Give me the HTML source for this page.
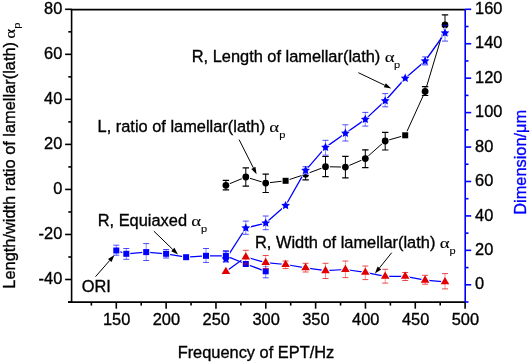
<!DOCTYPE html><html><head><meta charset="utf-8"><style>html,body{margin:0;padding:0;background:#fff;overflow:hidden}svg{display:block;will-change:transform}</style></head><body><svg width="531" height="363" viewBox="0 0 531 363"><style>text{stroke:currentColor;stroke-width:0.35px}</style><rect width="531" height="363" fill="#fff"/><g stroke="#000" stroke-width="1.6" fill="none"><path d="M70.8,9.6H465.2"/><path d="M71.6,9.3V302.1"/><path d="M68,302.1H465.2"/><path d="M65.10,9.30H71.6"/><path d="M68.30,31.82H71.6"/><path d="M65.10,54.33H71.6"/><path d="M68.30,76.85H71.6"/><path d="M65.10,99.37H71.6"/><path d="M68.30,121.89H71.6"/><path d="M65.10,144.40H71.6"/><path d="M68.30,166.92H71.6"/><path d="M65.10,189.44H71.6"/><path d="M68.30,211.95H71.6"/><path d="M65.10,234.47H71.6"/><path d="M68.30,256.99H71.6"/><path d="M65.10,279.50H71.6"/><path d="M68.30,302.02H71.6"/><path d="M91.38,302.1V305.60"/><path d="M116.30,302.1V308.70"/><path d="M141.22,302.1V305.60"/><path d="M166.13,302.1V308.70"/><path d="M191.05,302.1V305.60"/><path d="M215.96,302.1V308.70"/><path d="M240.88,302.1V305.60"/><path d="M265.79,302.1V308.70"/><path d="M290.70,302.1V305.60"/><path d="M315.62,302.1V308.70"/><path d="M340.54,302.1V305.60"/><path d="M365.45,302.1V308.70"/><path d="M390.37,302.1V305.60"/><path d="M415.28,302.1V308.70"/><path d="M440.20,302.1V305.60"/><path d="M465.11,302.1V308.70"/></g><g stroke="#0000ff" stroke-width="1.6" fill="none"><path d="M465.2,9.3V302.1"/><path d="M465.2,9.30H471.20"/><path d="M465.2,26.52H468.50"/><path d="M465.2,43.74H471.20"/><path d="M465.2,60.95H468.50"/><path d="M465.2,78.17H471.20"/><path d="M465.2,95.39H468.50"/><path d="M465.2,112.61H471.20"/><path d="M465.2,129.83H468.50"/><path d="M465.2,147.04H471.20"/><path d="M465.2,164.26H468.50"/><path d="M465.2,181.48H471.20"/><path d="M465.2,198.70H468.50"/><path d="M465.2,215.92H471.20"/><path d="M465.2,233.13H468.50"/><path d="M465.2,250.35H471.20"/><path d="M465.2,267.57H468.50"/><path d="M465.2,284.79H471.20"/><path d="M465.2,302.01H468.50"/></g><polyline points="225.90,185.30 245.80,177.00 265.70,183.10 285.60,180.80 305.60,174.20 325.50,166.70 345.40,167.10 365.30,158.60 385.20,141.00 405.20,135.30 425.10,91.50 445.00,25.00" fill="none" stroke="#000000" stroke-width="1.0" stroke-linejoin="round"/><polyline points="116.30,250.50 126.30,253.80 146.20,252.10 166.10,253.80 186.10,257.20 206.00,255.80 225.90,255.80 245.80,264.00 265.70,271.30" fill="none" stroke="#0000ff" stroke-width="1.25" stroke-linejoin="round"/><polyline points="225.90,271.50 245.80,257.00 265.70,262.60 285.60,264.50 305.60,267.90 325.50,270.70 345.40,269.50 365.30,272.30 385.20,276.30 405.20,276.30 425.10,280.20 445.00,281.90" fill="none" stroke="#0000ff" stroke-width="1.25" stroke-linejoin="round"/><polyline points="225.90,259.00 245.80,228.00 265.70,223.10 285.60,205.50 305.60,170.40 325.50,147.40 345.40,133.20 365.30,119.40 385.20,100.80 405.20,78.20 425.10,61.00 445.00,33.00" fill="none" stroke="#0000ff" stroke-width="1.3" stroke-linejoin="round"/><g fill="#fff" stroke="#fff" stroke-width="2.0" stroke-linejoin="round"><circle cx="225.90" cy="185.30" r="3.4"/><circle cx="245.80" cy="177.00" r="3.4"/><circle cx="265.70" cy="183.10" r="3.4"/><rect x="282.60" y="177.80" width="6" height="6"/><circle cx="305.60" cy="174.20" r="3.4"/><circle cx="325.50" cy="166.70" r="3.4"/><circle cx="345.40" cy="167.10" r="3.4"/><circle cx="365.30" cy="158.60" r="3.4"/><circle cx="385.20" cy="141.00" r="3.4"/><rect x="402.20" y="132.30" width="6" height="6"/><circle cx="425.10" cy="91.50" r="3.4"/><circle cx="445.00" cy="25.00" r="3.4"/></g><path d="M225.90,180.40V189.80" stroke="#000000" stroke-width="1.02" fill="none" opacity="1"/><path d="M222.70,180.40h6.4M222.70,189.80h6.4" stroke="#000000" stroke-width="1.2" fill="none" opacity="1"/><path d="M245.80,167.90V186.20" stroke="#000000" stroke-width="1.02" fill="none" opacity="1"/><path d="M242.60,167.90h6.4M242.60,186.20h6.4" stroke="#000000" stroke-width="1.2" fill="none" opacity="1"/><path d="M265.70,174.10V192.50" stroke="#000000" stroke-width="1.02" fill="none" opacity="1"/><path d="M262.50,174.10h6.4M262.50,192.50h6.4" stroke="#000000" stroke-width="1.2" fill="none" opacity="1"/><path d="M305.60,168.50V179.80" stroke="#000000" stroke-width="1.02" fill="none" opacity="1"/><path d="M302.40,168.50h6.4M302.40,179.80h6.4" stroke="#000000" stroke-width="1.2" fill="none" opacity="1"/><path d="M325.50,156.50V176.70" stroke="#000000" stroke-width="1.02" fill="none" opacity="1"/><path d="M322.30,156.50h6.4M322.30,176.70h6.4" stroke="#000000" stroke-width="1.2" fill="none" opacity="1"/><path d="M345.40,156.40V177.90" stroke="#000000" stroke-width="1.02" fill="none" opacity="1"/><path d="M342.20,156.40h6.4M342.20,177.90h6.4" stroke="#000000" stroke-width="1.2" fill="none" opacity="1"/><path d="M365.30,149.80V167.60" stroke="#000000" stroke-width="1.02" fill="none" opacity="1"/><path d="M362.10,149.80h6.4M362.10,167.60h6.4" stroke="#000000" stroke-width="1.2" fill="none" opacity="1"/><path d="M385.20,132.30V150.00" stroke="#000000" stroke-width="1.02" fill="none" opacity="1"/><path d="M382.00,132.30h6.4M382.00,150.00h6.4" stroke="#000000" stroke-width="1.2" fill="none" opacity="1"/><path d="M425.10,86.60V95.50" stroke="#000000" stroke-width="1.02" fill="none" opacity="1"/><path d="M421.90,86.60h6.4M421.90,95.50h6.4" stroke="#000000" stroke-width="1.2" fill="none" opacity="1"/><path d="M445.00,14.90V35.00" stroke="#000000" stroke-width="1.02" fill="none" opacity="1"/><path d="M441.80,14.90h6.4M441.80,35.00h6.4" stroke="#000000" stroke-width="1.2" fill="none" opacity="1"/><circle cx="225.90" cy="185.30" r="3.4" fill="#000"/><circle cx="245.80" cy="177.00" r="3.4" fill="#000"/><circle cx="265.70" cy="183.10" r="3.4" fill="#000"/><rect x="282.60" y="177.80" width="6" height="6" fill="#000"/><circle cx="305.60" cy="174.20" r="3.4" fill="#000"/><circle cx="325.50" cy="166.70" r="3.4" fill="#000"/><circle cx="345.40" cy="167.10" r="3.4" fill="#000"/><circle cx="365.30" cy="158.60" r="3.4" fill="#000"/><circle cx="385.20" cy="141.00" r="3.4" fill="#000"/><rect x="402.20" y="132.30" width="6" height="6" fill="#000"/><circle cx="425.10" cy="91.50" r="3.4" fill="#000"/><circle cx="445.00" cy="25.00" r="3.4" fill="#000"/><g fill="#fff" stroke="#fff" stroke-width="2.0" stroke-linejoin="round"><rect x="113.30" y="247.50" width="6" height="6"/><rect x="123.30" y="250.80" width="6" height="6"/><rect x="143.20" y="249.10" width="6" height="6"/><rect x="163.10" y="250.80" width="6" height="6"/><rect x="183.10" y="254.20" width="6" height="6"/><rect x="203.00" y="252.80" width="6" height="6"/><rect x="222.90" y="252.80" width="6" height="6"/><rect x="242.80" y="261.00" width="6" height="6"/><rect x="262.70" y="268.30" width="6" height="6"/></g><path d="M116.30,245.20V255.20" stroke="#0000ff" stroke-width="0.85" fill="none" opacity="0.55"/><path d="M113.30,245.20h6.0M113.30,255.20h6.0" stroke="#0000ff" stroke-width="1.0" fill="none" opacity="0.7"/><path d="M126.30,248.50V259.30" stroke="#0000ff" stroke-width="0.85" fill="none" opacity="0.55"/><path d="M123.30,248.50h6.0M123.30,259.30h6.0" stroke="#0000ff" stroke-width="1.0" fill="none" opacity="0.7"/><path d="M146.20,243.60V260.50" stroke="#0000ff" stroke-width="0.85" fill="none" opacity="0.55"/><path d="M143.20,243.60h6.0M143.20,260.50h6.0" stroke="#0000ff" stroke-width="1.0" fill="none" opacity="0.7"/><path d="M166.10,249.50V258.00" stroke="#0000ff" stroke-width="0.85" fill="none" opacity="0.55"/><path d="M163.10,249.50h6.0M163.10,258.00h6.0" stroke="#0000ff" stroke-width="1.0" fill="none" opacity="0.7"/><path d="M206.00,248.50V262.40" stroke="#0000ff" stroke-width="0.85" fill="none" opacity="0.55"/><path d="M203.00,248.50h6.0M203.00,262.40h6.0" stroke="#0000ff" stroke-width="1.0" fill="none" opacity="0.7"/><path d="M225.90,251.50V259.50" stroke="#0000ff" stroke-width="0.85" fill="none" opacity="0.55"/><path d="M222.90,251.50h6.0M222.90,259.50h6.0" stroke="#0000ff" stroke-width="1.0" fill="none" opacity="0.7"/><path d="M265.70,266.00V277.80" stroke="#0000ff" stroke-width="0.85" fill="none" opacity="0.55"/><path d="M262.70,266.00h6.0M262.70,277.80h6.0" stroke="#0000ff" stroke-width="1.0" fill="none" opacity="0.7"/><rect x="113.30" y="247.50" width="6" height="6" fill="#0000ff"/><rect x="123.30" y="250.80" width="6" height="6" fill="#0000ff"/><rect x="143.20" y="249.10" width="6" height="6" fill="#0000ff"/><rect x="163.10" y="250.80" width="6" height="6" fill="#0000ff"/><rect x="183.10" y="254.20" width="6" height="6" fill="#0000ff"/><rect x="203.00" y="252.80" width="6" height="6" fill="#0000ff"/><rect x="222.90" y="252.80" width="6" height="6" fill="#0000ff"/><rect x="242.80" y="261.00" width="6" height="6" fill="#0000ff"/><rect x="262.70" y="268.30" width="6" height="6" fill="#0000ff"/><g fill="#fff" stroke="#fff" stroke-width="2.0" stroke-linejoin="round"><path d="M225.90,266.63L230.20,273.93L221.60,273.93Z"/><path d="M245.80,252.13L250.10,259.43L241.50,259.43Z"/><path d="M265.70,257.73L270.00,265.03L261.40,265.03Z"/><path d="M285.60,259.63L289.90,266.93L281.30,266.93Z"/><path d="M305.60,263.03L309.90,270.33L301.30,270.33Z"/><path d="M325.50,265.83L329.80,273.13L321.20,273.13Z"/><path d="M345.40,264.63L349.70,271.93L341.10,271.93Z"/><path d="M365.30,267.43L369.60,274.73L361.00,274.73Z"/><path d="M385.20,271.43L389.50,278.73L380.90,278.73Z"/><path d="M405.20,271.43L409.50,278.73L400.90,278.73Z"/><path d="M425.10,275.33L429.40,282.63L420.80,282.63Z"/><path d="M445.00,277.03L449.30,284.33L440.70,284.33Z"/></g><path d="M245.80,250.30V264.00" stroke="#e00000" stroke-width="0.85" fill="none" opacity="0.5"/><path d="M242.80,250.30h6.0M242.80,264.00h6.0" stroke="#e00000" stroke-width="1.0" fill="none" opacity="0.7"/><path d="M265.70,255.50V268.70" stroke="#e00000" stroke-width="0.85" fill="none" opacity="0.5"/><path d="M262.70,255.50h6.0M262.70,268.70h6.0" stroke="#e00000" stroke-width="1.0" fill="none" opacity="0.7"/><path d="M285.60,261.00V268.60" stroke="#e00000" stroke-width="0.85" fill="none" opacity="0.5"/><path d="M282.60,261.00h6.0M282.60,268.60h6.0" stroke="#e00000" stroke-width="1.0" fill="none" opacity="0.7"/><path d="M305.60,263.30V272.00" stroke="#e00000" stroke-width="0.85" fill="none" opacity="0.5"/><path d="M302.60,263.30h6.0M302.60,272.00h6.0" stroke="#e00000" stroke-width="1.0" fill="none" opacity="0.7"/><path d="M325.50,263.30V278.50" stroke="#e00000" stroke-width="0.85" fill="none" opacity="0.5"/><path d="M322.50,263.30h6.0M322.50,278.50h6.0" stroke="#e00000" stroke-width="1.0" fill="none" opacity="0.7"/><path d="M345.40,261.00V277.60" stroke="#e00000" stroke-width="0.85" fill="none" opacity="0.5"/><path d="M342.40,261.00h6.0M342.40,277.60h6.0" stroke="#e00000" stroke-width="1.0" fill="none" opacity="0.7"/><path d="M365.30,266.00V279.60" stroke="#e00000" stroke-width="0.85" fill="none" opacity="0.5"/><path d="M362.30,266.00h6.0M362.30,279.60h6.0" stroke="#e00000" stroke-width="1.0" fill="none" opacity="0.7"/><path d="M385.20,269.30V283.10" stroke="#e00000" stroke-width="0.85" fill="none" opacity="0.5"/><path d="M382.20,269.30h6.0M382.20,283.10h6.0" stroke="#e00000" stroke-width="1.0" fill="none" opacity="0.7"/><path d="M405.20,272.50V280.50" stroke="#e00000" stroke-width="0.85" fill="none" opacity="0.5"/><path d="M402.20,272.50h6.0M402.20,280.50h6.0" stroke="#e00000" stroke-width="1.0" fill="none" opacity="0.7"/><path d="M425.10,275.30V284.20" stroke="#e00000" stroke-width="0.85" fill="none" opacity="0.5"/><path d="M422.10,275.30h6.0M422.10,284.20h6.0" stroke="#e00000" stroke-width="1.0" fill="none" opacity="0.7"/><path d="M445.00,273.60V288.90" stroke="#e00000" stroke-width="0.85" fill="none" opacity="0.5"/><path d="M442.00,273.60h6.0M442.00,288.90h6.0" stroke="#e00000" stroke-width="1.0" fill="none" opacity="0.7"/><path d="M225.90,266.63L230.20,273.93L221.60,273.93Z" fill="#e00000"/><path d="M245.80,252.13L250.10,259.43L241.50,259.43Z" fill="#e00000"/><path d="M265.70,257.73L270.00,265.03L261.40,265.03Z" fill="#e00000"/><path d="M285.60,259.63L289.90,266.93L281.30,266.93Z" fill="#e00000"/><path d="M305.60,263.03L309.90,270.33L301.30,270.33Z" fill="#e00000"/><path d="M325.50,265.83L329.80,273.13L321.20,273.13Z" fill="#e00000"/><path d="M345.40,264.63L349.70,271.93L341.10,271.93Z" fill="#e00000"/><path d="M365.30,267.43L369.60,274.73L361.00,274.73Z" fill="#e00000"/><path d="M385.20,271.43L389.50,278.73L380.90,278.73Z" fill="#e00000"/><path d="M405.20,271.43L409.50,278.73L400.90,278.73Z" fill="#e00000"/><path d="M425.10,275.33L429.40,282.63L420.80,282.63Z" fill="#e00000"/><path d="M445.00,277.03L449.30,284.33L440.70,284.33Z" fill="#e00000"/><g fill="#fff" stroke="#fff" stroke-width="2.0" stroke-linejoin="round"><path d="M245.80,223.40 L247.12,226.18 L250.17,226.58 L247.94,228.70 L248.50,231.72 L245.80,230.25 L243.10,231.72 L243.66,228.70 L241.43,226.58 L244.48,226.18Z"/><path d="M265.70,218.50 L267.02,221.28 L270.07,221.68 L267.84,223.80 L268.40,226.82 L265.70,225.35 L263.00,226.82 L263.56,223.80 L261.33,221.68 L264.38,221.28Z"/><path d="M285.60,200.90 L286.92,203.68 L289.97,204.08 L287.74,206.20 L288.30,209.22 L285.60,207.75 L282.90,209.22 L283.46,206.20 L281.23,204.08 L284.28,203.68Z"/><path d="M305.60,165.80 L306.92,168.58 L309.97,168.98 L307.74,171.10 L308.30,174.12 L305.60,172.65 L302.90,174.12 L303.46,171.10 L301.23,168.98 L304.28,168.58Z"/><path d="M325.50,142.80 L326.82,145.58 L329.87,145.98 L327.64,148.10 L328.20,151.12 L325.50,149.65 L322.80,151.12 L323.36,148.10 L321.13,145.98 L324.18,145.58Z"/><path d="M345.40,128.60 L346.72,131.38 L349.77,131.78 L347.54,133.90 L348.10,136.92 L345.40,135.45 L342.70,136.92 L343.26,133.90 L341.03,131.78 L344.08,131.38Z"/><path d="M365.30,114.80 L366.62,117.58 L369.67,117.98 L367.44,120.10 L368.00,123.12 L365.30,121.65 L362.60,123.12 L363.16,120.10 L360.93,117.98 L363.98,117.58Z"/><path d="M385.20,96.20 L386.52,98.98 L389.57,99.38 L387.34,101.50 L387.90,104.52 L385.20,103.05 L382.50,104.52 L383.06,101.50 L380.83,99.38 L383.88,98.98Z"/><path d="M405.20,73.60 L406.52,76.38 L409.57,76.78 L407.34,78.90 L407.90,81.92 L405.20,80.45 L402.50,81.92 L403.06,78.90 L400.83,76.78 L403.88,76.38Z"/><path d="M425.10,56.40 L426.42,59.18 L429.47,59.58 L427.24,61.70 L427.80,64.72 L425.10,63.25 L422.40,64.72 L422.96,61.70 L420.73,59.58 L423.78,59.18Z"/><path d="M445.00,28.40 L446.32,31.18 L449.37,31.58 L447.14,33.70 L447.70,36.72 L445.00,35.25 L442.30,36.72 L442.86,33.70 L440.63,31.58 L443.68,31.18Z"/></g><path d="M225.90,250.60V262.00" stroke="#0000ff" stroke-width="0.85" fill="none" opacity="0.55"/><path d="M222.90,250.60h6.0M222.90,262.00h6.0" stroke="#0000ff" stroke-width="1.0" fill="none" opacity="0.7"/><path d="M245.80,221.10V234.30" stroke="#0000ff" stroke-width="0.85" fill="none" opacity="0.55"/><path d="M242.80,221.10h6.0M242.80,234.30h6.0" stroke="#0000ff" stroke-width="1.0" fill="none" opacity="0.7"/><path d="M265.70,216.00V229.70" stroke="#0000ff" stroke-width="0.85" fill="none" opacity="0.55"/><path d="M262.70,216.00h6.0M262.70,229.70h6.0" stroke="#0000ff" stroke-width="1.0" fill="none" opacity="0.7"/><path d="M305.60,166.70V174.00" stroke="#0000ff" stroke-width="0.85" fill="none" opacity="0.55"/><path d="M302.60,166.70h6.0M302.60,174.00h6.0" stroke="#0000ff" stroke-width="1.0" fill="none" opacity="0.7"/><path d="M325.50,140.30V155.20" stroke="#0000ff" stroke-width="0.85" fill="none" opacity="0.55"/><path d="M322.50,140.30h6.0M322.50,155.20h6.0" stroke="#0000ff" stroke-width="1.0" fill="none" opacity="0.7"/><path d="M345.40,124.80V141.00" stroke="#0000ff" stroke-width="0.85" fill="none" opacity="0.55"/><path d="M342.40,124.80h6.0M342.40,141.00h6.0" stroke="#0000ff" stroke-width="1.0" fill="none" opacity="0.7"/><path d="M365.30,112.40V126.10" stroke="#0000ff" stroke-width="0.85" fill="none" opacity="0.55"/><path d="M362.30,112.40h6.0M362.30,126.10h6.0" stroke="#0000ff" stroke-width="1.0" fill="none" opacity="0.7"/><path d="M385.20,93.60V106.80" stroke="#0000ff" stroke-width="0.85" fill="none" opacity="0.55"/><path d="M382.20,93.60h6.0M382.20,106.80h6.0" stroke="#0000ff" stroke-width="1.0" fill="none" opacity="0.7"/><path d="M425.10,56.90V64.90" stroke="#0000ff" stroke-width="0.85" fill="none" opacity="0.55"/><path d="M422.10,56.90h6.0M422.10,64.90h6.0" stroke="#0000ff" stroke-width="1.0" fill="none" opacity="0.7"/><path d="M445.00,25.30V41.10" stroke="#0000ff" stroke-width="0.85" fill="none" opacity="0.55"/><path d="M442.00,25.30h6.0M442.00,41.10h6.0" stroke="#0000ff" stroke-width="1.0" fill="none" opacity="0.7"/><path d="M225.90,254.40 L227.22,257.18 L230.27,257.58 L228.04,259.70 L228.60,262.72 L225.90,261.25 L223.20,262.72 L223.76,259.70 L221.53,257.58 L224.58,257.18Z" fill="#0000ff"/><path d="M245.80,223.40 L247.12,226.18 L250.17,226.58 L247.94,228.70 L248.50,231.72 L245.80,230.25 L243.10,231.72 L243.66,228.70 L241.43,226.58 L244.48,226.18Z" fill="#0000ff"/><path d="M265.70,218.50 L267.02,221.28 L270.07,221.68 L267.84,223.80 L268.40,226.82 L265.70,225.35 L263.00,226.82 L263.56,223.80 L261.33,221.68 L264.38,221.28Z" fill="#0000ff"/><path d="M285.60,200.90 L286.92,203.68 L289.97,204.08 L287.74,206.20 L288.30,209.22 L285.60,207.75 L282.90,209.22 L283.46,206.20 L281.23,204.08 L284.28,203.68Z" fill="#0000ff"/><path d="M305.60,165.80 L306.92,168.58 L309.97,168.98 L307.74,171.10 L308.30,174.12 L305.60,172.65 L302.90,174.12 L303.46,171.10 L301.23,168.98 L304.28,168.58Z" fill="#0000ff"/><path d="M325.50,142.80 L326.82,145.58 L329.87,145.98 L327.64,148.10 L328.20,151.12 L325.50,149.65 L322.80,151.12 L323.36,148.10 L321.13,145.98 L324.18,145.58Z" fill="#0000ff"/><path d="M345.40,128.60 L346.72,131.38 L349.77,131.78 L347.54,133.90 L348.10,136.92 L345.40,135.45 L342.70,136.92 L343.26,133.90 L341.03,131.78 L344.08,131.38Z" fill="#0000ff"/><path d="M365.30,114.80 L366.62,117.58 L369.67,117.98 L367.44,120.10 L368.00,123.12 L365.30,121.65 L362.60,123.12 L363.16,120.10 L360.93,117.98 L363.98,117.58Z" fill="#0000ff"/><path d="M385.20,96.20 L386.52,98.98 L389.57,99.38 L387.34,101.50 L387.90,104.52 L385.20,103.05 L382.50,104.52 L383.06,101.50 L380.83,99.38 L383.88,98.98Z" fill="#0000ff"/><path d="M405.20,73.60 L406.52,76.38 L409.57,76.78 L407.34,78.90 L407.90,81.92 L405.20,80.45 L402.50,81.92 L403.06,78.90 L400.83,76.78 L403.88,76.38Z" fill="#0000ff"/><path d="M425.10,56.40 L426.42,59.18 L429.47,59.58 L427.24,61.70 L427.80,64.72 L425.10,63.25 L422.40,64.72 L422.96,61.70 L420.73,59.58 L423.78,59.18Z" fill="#0000ff"/><path d="M445.00,28.40 L446.32,31.18 L449.37,31.58 L447.14,33.70 L447.70,36.72 L445.00,35.25 L442.30,36.72 L442.86,33.70 L440.63,31.58 L443.68,31.18Z" fill="#0000ff"/><path d="M358.40,72.70L384.80,85.30" stroke="#000" stroke-width="1.0" fill="none"/><path d="M391.30,88.40L383.81,87.37L385.79,83.22Z" fill="#000"/><path d="M239.10,139.60L253.36,167.87" stroke="#000" stroke-width="1.0" fill="none"/><path d="M256.60,174.30L251.30,168.91L255.41,166.84Z" fill="#000"/><path d="M153.80,231.10L172.82,249.50" stroke="#000" stroke-width="1.0" fill="none"/><path d="M178.00,254.50L171.23,251.15L174.42,247.84Z" fill="#000"/><path d="M391.70,252.70L379.41,267.99" stroke="#000" stroke-width="1.0" fill="none"/><path d="M374.90,273.60L377.62,266.55L381.20,269.43Z" fill="#000"/><path d="M95.50,276.70L109.76,260.42" stroke="#000" stroke-width="1.0" fill="none"/><path d="M114.50,255.00L111.49,261.93L108.03,258.90Z" fill="#000"/><text transform="translate(62.30,14.10) scale(0.965,1)" text-anchor="end" font-size="17" fill="#000" color="#000" font-family="Liberation Sans, sans-serif">80</text><text transform="translate(62.30,59.13) scale(0.965,1)" text-anchor="end" font-size="17" fill="#000" color="#000" font-family="Liberation Sans, sans-serif">60</text><text transform="translate(62.30,104.17) scale(0.965,1)" text-anchor="end" font-size="17" fill="#000" color="#000" font-family="Liberation Sans, sans-serif">40</text><text transform="translate(62.30,149.20) scale(0.965,1)" text-anchor="end" font-size="17" fill="#000" color="#000" font-family="Liberation Sans, sans-serif">20</text><text transform="translate(62.30,194.24) scale(0.965,1)" text-anchor="end" font-size="17" fill="#000" color="#000" font-family="Liberation Sans, sans-serif">0</text><text transform="translate(62.30,239.27) scale(0.965,1)" text-anchor="end" font-size="17" fill="#000" color="#000" font-family="Liberation Sans, sans-serif">-20</text><text transform="translate(62.30,284.30) scale(0.965,1)" text-anchor="end" font-size="17" fill="#000" color="#000" font-family="Liberation Sans, sans-serif">-40</text><text transform="translate(475.10,289.49) scale(0.965,1)" text-anchor="start" font-size="17" fill="#000" color="#000" font-family="Liberation Sans, sans-serif">0</text><text transform="translate(475.10,255.05) scale(0.965,1)" text-anchor="start" font-size="17" fill="#000" color="#000" font-family="Liberation Sans, sans-serif">20</text><text transform="translate(475.10,220.62) scale(0.965,1)" text-anchor="start" font-size="17" fill="#000" color="#000" font-family="Liberation Sans, sans-serif">40</text><text transform="translate(475.10,186.18) scale(0.965,1)" text-anchor="start" font-size="17" fill="#000" color="#000" font-family="Liberation Sans, sans-serif">60</text><text transform="translate(475.10,151.74) scale(0.965,1)" text-anchor="start" font-size="17" fill="#000" color="#000" font-family="Liberation Sans, sans-serif">80</text><text transform="translate(475.10,117.31) scale(0.965,1)" text-anchor="start" font-size="17" fill="#000" color="#000" font-family="Liberation Sans, sans-serif">100</text><text transform="translate(475.10,82.87) scale(0.965,1)" text-anchor="start" font-size="17" fill="#000" color="#000" font-family="Liberation Sans, sans-serif">120</text><text transform="translate(475.10,48.44) scale(0.965,1)" text-anchor="start" font-size="17" fill="#000" color="#000" font-family="Liberation Sans, sans-serif">140</text><text transform="translate(475.10,14.00) scale(0.965,1)" text-anchor="start" font-size="17" fill="#000" color="#000" font-family="Liberation Sans, sans-serif">160</text><text transform="translate(116.60,324.60) scale(0.965,1)" text-anchor="middle" font-size="17" fill="#000" color="#000" font-family="Liberation Sans, sans-serif">150</text><text transform="translate(166.43,324.60) scale(0.965,1)" text-anchor="middle" font-size="17" fill="#000" color="#000" font-family="Liberation Sans, sans-serif">200</text><text transform="translate(216.26,324.60) scale(0.965,1)" text-anchor="middle" font-size="17" fill="#000" color="#000" font-family="Liberation Sans, sans-serif">250</text><text transform="translate(266.09,324.60) scale(0.965,1)" text-anchor="middle" font-size="17" fill="#000" color="#000" font-family="Liberation Sans, sans-serif">300</text><text transform="translate(315.92,324.60) scale(0.965,1)" text-anchor="middle" font-size="17" fill="#000" color="#000" font-family="Liberation Sans, sans-serif">350</text><text transform="translate(365.75,324.60) scale(0.965,1)" text-anchor="middle" font-size="17" fill="#000" color="#000" font-family="Liberation Sans, sans-serif">400</text><text transform="translate(415.58,324.60) scale(0.965,1)" text-anchor="middle" font-size="17" fill="#000" color="#000" font-family="Liberation Sans, sans-serif">450</text><text transform="translate(465.41,324.60) scale(0.965,1)" text-anchor="middle" font-size="17" fill="#000" color="#000" font-family="Liberation Sans, sans-serif">500</text><text transform="translate(191.73,62.10) scale(0.965,1)" text-anchor="start" font-size="17" fill="#000" color="#000" font-family="Liberation Sans, sans-serif">R, Length of lamellar(lath)</text><text transform="translate(384.65,62.10) scale(1.25,1)" font-size="15" style="stroke-width:0.1px" font-family="Liberation Serif, serif">α</text><text transform="translate(394.03,68.10) scale(1.2,1)" font-size="9.2" style="stroke-width:0.1px" font-family="Liberation Sans, sans-serif">p</text><text transform="translate(97.54,132.00) scale(0.965,1)" text-anchor="start" font-size="17" fill="#000" color="#000" font-family="Liberation Sans, sans-serif">L, ratio of lamellar(lath)</text><text transform="translate(269.25,132.00) scale(1.25,1)" font-size="15" style="stroke-width:0.1px" font-family="Liberation Serif, serif">α</text><text transform="translate(279.13,138.00) scale(1.2,1)" font-size="9.2" style="stroke-width:0.1px" font-family="Liberation Sans, sans-serif">p</text><text transform="translate(97.74,226.00) scale(0.965,1)" text-anchor="start" font-size="17" fill="#000" color="#000" font-family="Liberation Sans, sans-serif">R, Equiaxed</text><text transform="translate(191.25,226.00) scale(1.25,1)" font-size="15" style="stroke-width:0.1px" font-family="Liberation Serif, serif">α</text><text transform="translate(201.03,232.00) scale(1.2,1)" font-size="9.2" style="stroke-width:0.1px" font-family="Liberation Sans, sans-serif">p</text><text transform="translate(255.03,248.10) scale(0.965,1)" text-anchor="start" font-size="17" fill="#000" color="#000" font-family="Liberation Sans, sans-serif">R, Width of lamellar(lath)</text><text transform="translate(439.85,248.10) scale(1.25,1)" font-size="15" style="stroke-width:0.1px" font-family="Liberation Serif, serif">α</text><text transform="translate(449.43,254.10) scale(1.2,1)" font-size="9.2" style="stroke-width:0.1px" font-family="Liberation Sans, sans-serif">p</text><text transform="translate(81.70,291.60) scale(0.965,1)" text-anchor="start" font-size="17" fill="#000" color="#000" font-family="Liberation Sans, sans-serif">ORI</text><text transform="translate(177.64,357.60) scale(0.965,1)" text-anchor="start" font-size="17" fill="#000" color="#000" font-family="Liberation Sans, sans-serif">Frequency of EPT/Hz</text><text transform="translate(14.5,288.7) rotate(-90) scale(0.964,1)" font-size="17" font-family="Liberation Sans, sans-serif">Length/width ratio of lamellar(lath)</text><text transform="translate(14.5,38.65) rotate(-90) scale(1.25,1)" font-size="15" style="stroke-width:0.1px" font-family="Liberation Serif, serif">α</text><text transform="translate(20.3,28.67) rotate(-90) scale(1.2,1)" font-size="9.2" style="stroke-width:0.1px" font-family="Liberation Sans, sans-serif">p</text><text transform="translate(526,214.8) rotate(-90) scale(0.9636,1)" font-size="17" fill="#0000ff" color="#0000ff" font-family="Liberation Sans, sans-serif">Dimension/μm</text></svg></body></html>
